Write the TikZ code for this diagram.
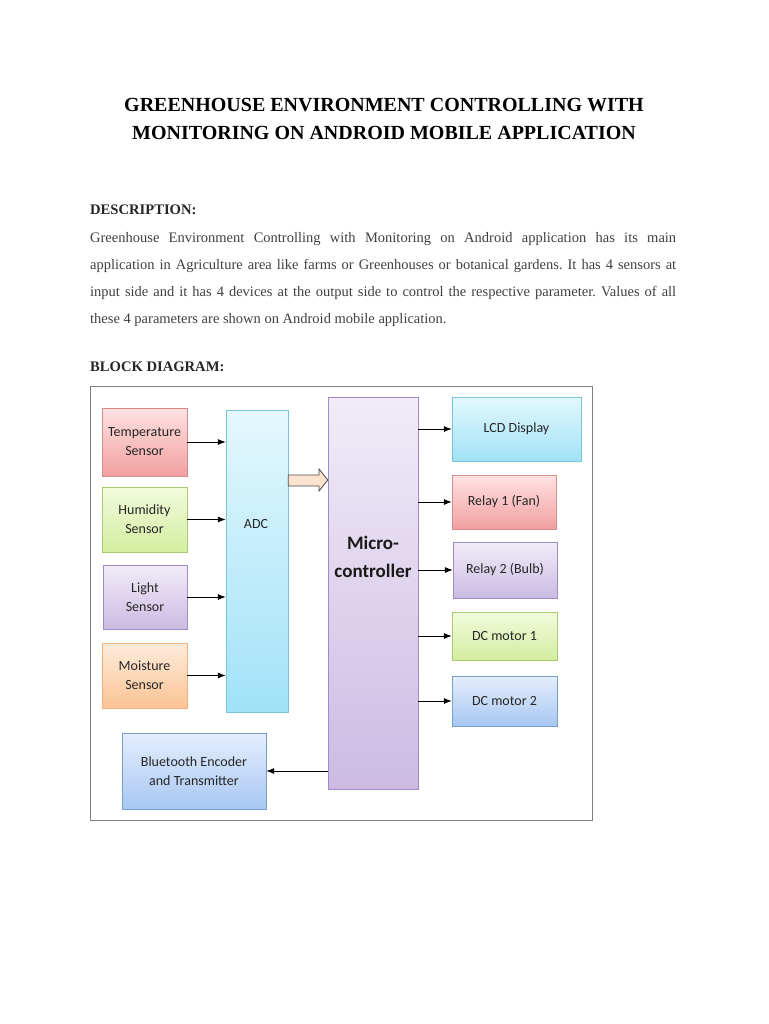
\documentclass[tikz,border=0pt]{standalone}
\usepackage{fontspec}
\setmainfont{Liberation Serif}
\newfontfamily\carlito{Carlito}
\usetikzlibrary{arrows.meta,shadows}
\definecolor{bodygray}{HTML}{404040}
\definecolor{framegray}{HTML}{808080}
\definecolor{peach}{HTML}{FCE3CF}
\frenchspacing

\begin{document}
\begin{tikzpicture}[x=1pt,y=-1pt,
  blk/.style={draw, rectangle, inner sep=2pt, align=center, text=black!85,
    font=\carlito\fontsize{14}{19}\selectfont,
    drop shadow={opacity=0.25, shadow xshift=1pt, shadow yshift=-1.2pt}},
  pinkbox/.style={blk, draw={rgb,255:red,217;green,140;blue,138}, top color={rgb,255:red,255;green,226;blue,226}, bottom color={rgb,255:red,242;green,160;blue,160}},
  greenbox/.style={blk, draw={rgb,255:red,170;green,205;blue,115}, top color={rgb,255:red,242;green,251;blue,222}, bottom color={rgb,255:red,211;green,237;blue,159}},
  lilacbox/.style={blk, draw={rgb,255:red,160;green,140;blue,196}, top color={rgb,255:red,241;green,236;blue,248}, bottom color={rgb,255:red,203;green,187;blue,227}},
  orangebox/.style={blk, draw={rgb,255:red,245;green,175;blue,120}, top color={rgb,255:red,253;green,236;blue,220}, bottom color={rgb,255:red,251;green,195;blue,148}},
  cyanbox/.style={blk, draw={rgb,255:red,120;green,196;blue,218}, top color={rgb,255:red,228;green,248;blue,253}, bottom color={rgb,255:red,161;green,226;blue,247}},
  bluebox/.style={blk, draw={rgb,255:red,120;green,158;blue,206}, top color={rgb,255:red,228;green,238;blue,252}, bottom color={rgb,255:red,168;green,199;blue,242}},
  arr/.style={-{Latex[length=8pt,width=6pt]}, line width=0.8pt},
  fatarrow/.style={draw=black!70, fill=peach, line width=0.8pt}]
\useasboundingbox[fill=white] (0,0) rectangle (768,1024);

% heading and text
\node[font=\bfseries\fontsize{20}{28}\selectfont, align=center] (title) at (384,119)
  {GREENHOUSE ENVIRONMENT CONTROLLING WITH\\MONITORING ON ANDROID MOBILE APPLICATION};
\node[anchor=west, inner sep=0, font=\bfseries\fontsize{14.6}{18}\selectfont, text=black!85] (desc) at (90,210) {DESCRIPTION:};
\node[anchor=north west, inner sep=0, text width=586pt, align=justify, text=bodygray,
  font=\fontsize{14.5}{27}\selectfont] (para) at (90,232)
  {Greenhouse Environment Controlling with Monitoring on Android application has its main\linebreak
   application in Agriculture area like farms or Greenhouses or botanical gardens. It has 4 sensors at\linebreak
   input side and it has 4 devices at the output side to control the respective parameter. Values of all\linebreak
   these 4 parameters are shown on Android mobile application.};
\node[anchor=west, inner sep=0, font=\bfseries\fontsize{14.6}{18}\selectfont, text=black!85] (blockhead) at (90,367) {BLOCK DIAGRAM:};

% frame
\draw[framegray, line width=0.8pt] (90,386) rectangle (592,820);

% inputs
\node[pinkbox, minimum width=85pt, minimum height=68pt] (temp) at (144.5,442) {Temperature\\Sensor};
\node[greenbox, minimum width=85pt, minimum height=65pt] (hum) at (144.5,519.5) {Humidity\\Sensor};
\node[lilacbox, minimum width=84pt, minimum height=64pt] (light) at (145,597) {Light\\Sensor};
\node[orangebox, minimum width=85pt, minimum height=65pt] (moist) at (144.5,675.5) {Moisture\\Sensor};
\node[cyanbox, minimum width=62pt, minimum height=302pt] (adc) at (257,561) {};
\node[lilacbox, minimum width=90pt, minimum height=392pt] (micro) at (373,593) {};
\node[font=\carlito\fontsize{14}{19}\selectfont, text=black!85] (adctxt) at (256,524) {ADC}; % ADC label
\node[font=\carlito\bfseries\fontsize{19}{28}\selectfont, align=center, text=black!90] (microtxt) at (373,557) {Micro-\\controller}; % micro label

% outputs
\node[cyanbox, minimum width=129pt, minimum height=64pt] (lcd) at (516.5,429) {LCD Display};
\node[pinkbox, minimum width=104pt, minimum height=54pt] (relayfan) at (504,502) {Relay 1 (Fan)};
\node[lilacbox, minimum width=104pt, minimum height=56pt] (relaybulb) at (505,570) {Relay 2 (Bulb)};
\node[greenbox, minimum width=105pt, minimum height=48pt] (motorone) at (504.5,636) {DC motor 1};
\node[bluebox, minimum width=105pt, minimum height=50pt] (motortwo) at (504.5,701) {DC motor 2};
\node[bluebox, minimum width=144pt, minimum height=76pt] (bt) at (194,771) {Bluetooth Encoder\\and Transmitter};

% connectors
\foreach \s in {temp,hum,light,moist}
  \draw[arr] (\s.east) -- (\s.east -| adc.west);
\foreach \d in {lcd,relayfan,relaybulb,motorone,motortwo}
  \draw[arr] (micro.east |- \d.west) -- (\d.west);
\draw[arr] (micro.west |- bt.east) -- (bt.east);
\draw[fatarrow] (adc.east |- 0,475) -- (319,475) -- (319,469) -- (micro.west |- 0,480)
  -- (319,491) -- (319,486) -- (adc.east |- 0,486) -- cycle; % ADC to controller
\end{tikzpicture}
\end{document}
